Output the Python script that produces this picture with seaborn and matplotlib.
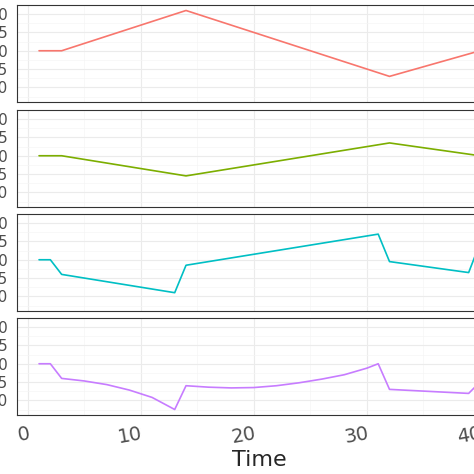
import numpy as np
import pandas as pd
import matplotlib.pyplot as plt
import seaborn as sns

sns.set_style('white')

# breakpoints
x1 = [1, 3, 14, 32, 40]
y1 = [0.0, 0.0, 0.11, -0.07, 0.0]
x2 = [1, 3, 14, 32, 40]
y2 = [0.0, 0.0, -0.055, 0.035, 0.0]
x3 = [1, 2, 3, 13, 14, 31, 32, 39, 40]
y3 = [0.0, 0.0, -0.04, -0.09, -0.015, 0.07, -0.005, -0.035, 0.045]
x4 = [1, 2, 3, 5, 7, 9, 11, 13, 14, 16, 18, 20, 22, 24, 26, 28, 30, 31, 32, 39, 40]
y4 = [0.0, 0.0, -0.04, -0.047, -0.057, -0.072, -0.092, -0.125, -0.06, -0.064, -0.066,
      -0.065, -0.06, -0.052, -0.042, -0.03, -0.012, 0.0, -0.07, -0.081, -0.05]
colors = ['#F8766D', '#7CAE00', '#00BFC4', '#C77CFF']
series = [(x1, y1), (x2, y2), (x3, y3), (x4, y4)]

fig = plt.figure(figsize=(4.74, 4.74), dpi=100)
H = 474.0
tops = [5, 110, 214, 318]
ph = 97
left, right = 17 / 474, 502 / 474
for i, ((xs, ys), c) in enumerate(zip(series, colors)):
    ax = fig.add_axes([left, 1 - (tops[i] + ph) / H, right - left, ph / H])
    df = pd.DataFrame({'Time': xs, 'value': ys})
    sns.lineplot(data=df, x='Time', y='value', ax=ax, color=c, linewidth=1.2)
    ax.set_xlim(-0.95, 41.95)
    ax.set_ylim(-0.14, 0.125)
    ax.set_yticks([-0.10, -0.05, 0.00, 0.05, 0.10])
    ax.set_yticklabels(['-0.10', '-0.05', '0.00', '0.05', '0.10'], fontsize=11, color='#4d4d4d')
    ax.set_yticks([-0.125, -0.075, -0.025, 0.025, 0.075, 0.125], minor=True)
    ax.set_xticks([0, 10, 20, 30, 40])
    ax.set_xticks([5, 15, 25, 35], minor=True)
    ax.grid(True, which='major', color='#ebebeb', linewidth=0.8)
    ax.grid(True, which='minor', color='#f5f5f5', linewidth=0.5)
    ax.set_axisbelow(True)
    for s in ax.spines.values():
        s.set_color('#333333')
        s.set_linewidth(0.8)
    ax.tick_params(axis='both', which='major', length=3, color='#333333')
    ax.tick_params(axis='both', which='minor', length=0)
    ax.set_ylabel('')
    if i < 3:
        ax.set_xlabel('')
        ax.set_xticklabels([])
    else:
        ax.set_xticklabels(['0', '10', '20', '30', '40'], fontsize=14, color='#4d4d4d',
                           rotation=10, ha='right', rotation_mode='anchor')
        ax.set_xlabel('Time', fontsize=16, labelpad=2)

fig.savefig('out.png', dpi=100)
